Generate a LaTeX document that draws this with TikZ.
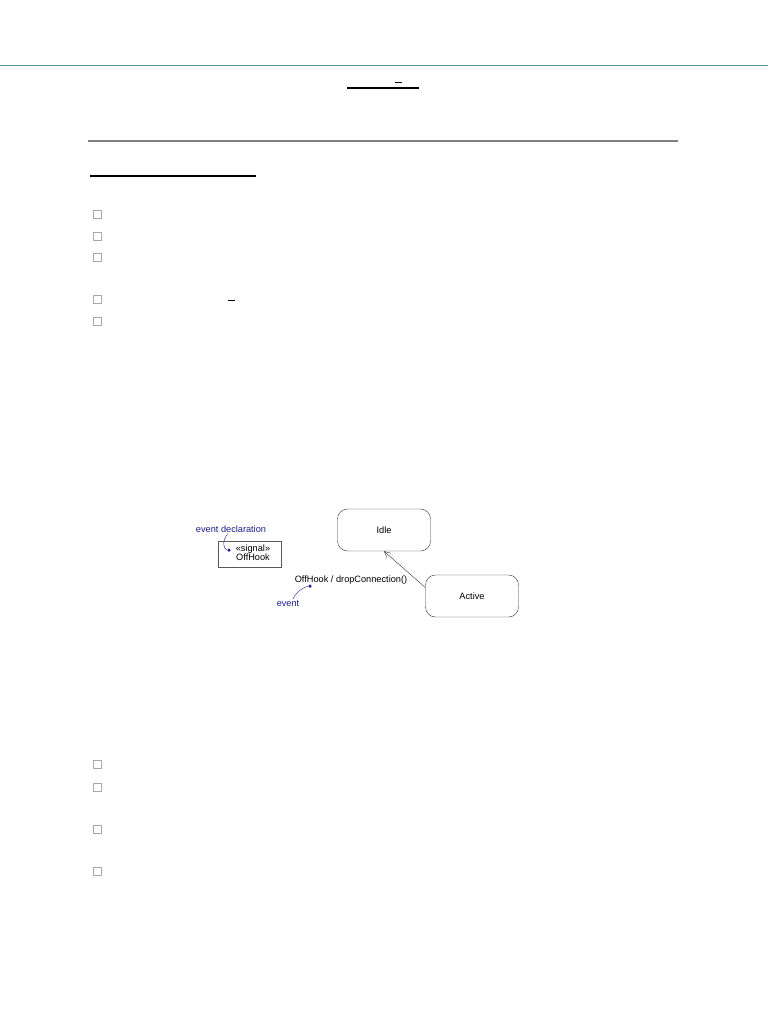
\documentclass[tikz,border=0pt]{standalone}
\usepackage{fontspec}
\setmainfont{Liberation Sans}
\usetikzlibrary{calc,arrows.meta}

\definecolor{rulegray}{HTML}{808080}
\definecolor{topblue}{HTML}{5A8FA0}
\definecolor{boxgray}{HTML}{A8A8A8}
\definecolor{notenavy}{HTML}{1E1E8C}

\begin{document}
\begin{tikzpicture}[
	x=1pt,y=-1pt,
	every node/.style={font=\fontsize{9.2}{10}\selectfont,inner sep=0pt},
	statebox/.style={draw=black!80,rounded corners=10pt,minimum width=93pt,minimum height=42pt},
	tick/.style={draw=boxgray,minimum size=7.5pt},
	note/.style={notenavy},
	dot/.style={fill=notenavy,circle,minimum size=3.5pt}
]
\useasboundingbox (0,0) rectangle (768,1024);
%\draw[step=50,black!10] (0,0) grid (768,1024);
% page rules
\draw[topblue,thin] (0,65)--(768,65);
\draw[line width=1.8pt] (347,88)--(419,88);
\draw[line width=0.9pt] (395,82)--(402,82);
\draw[rulegray,line width=2pt] (88,141)--(678,141);
\draw[line width=1.8pt] (90,176)--(256,176);
\draw[line width=0.9pt] (228,300)--(235,300);
% bullets
\foreach \y in {214,236,257,299,321,764,787,829,871}{
	\node[tick] at (97,\y){};
}
% states
\node[statebox] (idle) at (384,530){Idle};
\node[statebox] (active) at (472,596){Active};
\draw[black!80,-{Straight Barb[length=6pt,width=6pt]}] ($(active.north west)!0.3!(active.south west)$) to (idle.south);
\node (trans) at (351,580){OffHook / dropConnection()};
% event declaration
\node[draw=black!65,minimum width=63pt,minimum height=26pt] (sig) at (249.5,554){};
\node (sigtxt) at (253,554){\begin{tabular}{@{}c@{}}«signal»\\[-1.5pt]OffHook\end{tabular}};
\node[dot] (d1) at (229,550){};
\node[note] (decl) at (231,529){event declaration};
\draw[notenavy] ($(decl.south west)+(32,1)$) .. controls (222,541) and (223,549) .. (d1);
% event
\node[dot] (d2) at (310,586){};
\node[note] (ev) at (288,604){event};
\draw[notenavy] (d2) .. controls (304,587) and (297,591) .. ($(ev.north)+(5,-2)$);
\end{tikzpicture}
\end{document}
